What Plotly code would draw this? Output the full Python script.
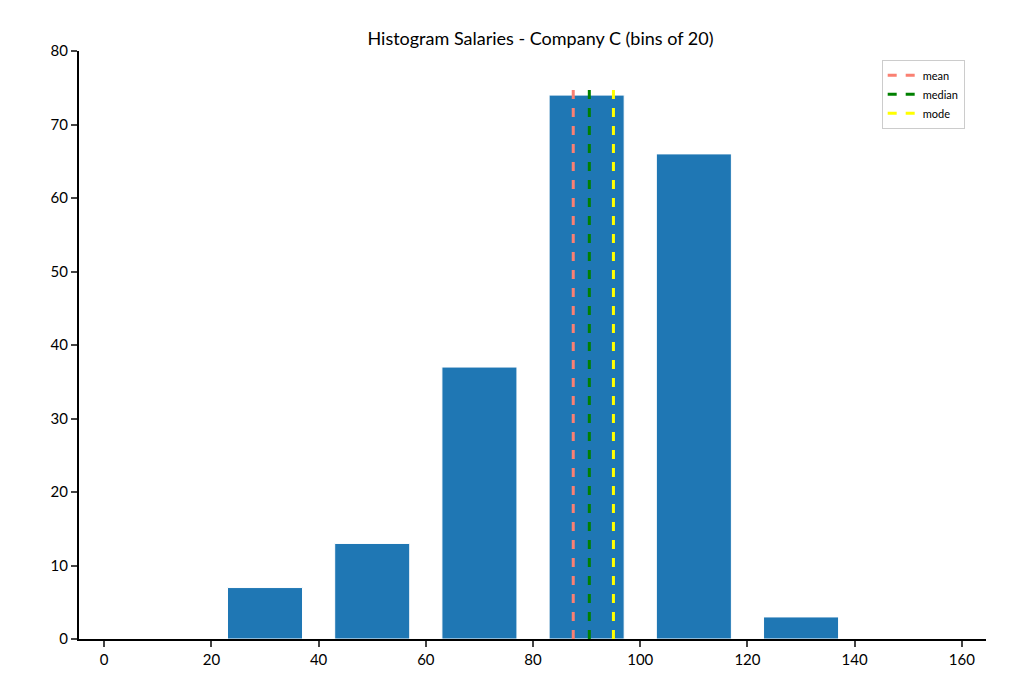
import plotly.graph_objects as go

# salary bins (centers) and counts
bin_centers = [30, 50, 70, 90, 110, 130]
counts = [7, 13, 37, 74, 66, 3]
bar_width = 14

stat_names = ["mean", "median", "mode"]
stat_values = [87.5, 90.5, 95.0]
stat_colors = ["salmon", "green", "yellow"]
line_top = 75

fig = go.Figure()
fig.add_trace(go.Bar(
    x=bin_centers, y=counts, width=bar_width,
    marker=dict(color="#1f77b4", line=dict(color="white", width=1)),
    showlegend=False,
))
for name, val, col in zip(stat_names, stat_values, stat_colors):
    fig.add_trace(go.Scatter(
        x=[val, val], y=[0, line_top], mode="lines", name=name,
        line=dict(color=col, width=3, dash="dash"),
    ))

fig.update_layout(
    width=1024, height=693,
    paper_bgcolor="white", plot_bgcolor="white",
    margin=dict(l=71, r=46, t=43, b=62),
    font=dict(family="Lato", size=15, color="black"),
    title=dict(text="Histogram Salaries - Company C (bins of 20)", x=0.52, y=0.965,
               font=dict(size=18)),
    xaxis=dict(range=[-4.7, 164.5], tickvals=list(range(0, 161, 20)),
               showline=True, linecolor="black", linewidth=2, ticks="outside",
               ticklen=6, tickwidth=2, showgrid=False, zeroline=False),
    yaxis=dict(range=[0, 80], tickvals=list(range(0, 81, 10)),
               showline=True, linecolor="black", linewidth=2, ticks="outside",
               ticklen=6, tickwidth=2, showgrid=False, zeroline=False),
    legend=dict(x=0.885, y=0.985, xanchor="left", yanchor="top",
                bgcolor="white", bordercolor="#cccccc", borderwidth=1,
                font=dict(size=11)),
)

fig.write_html("out.html")
